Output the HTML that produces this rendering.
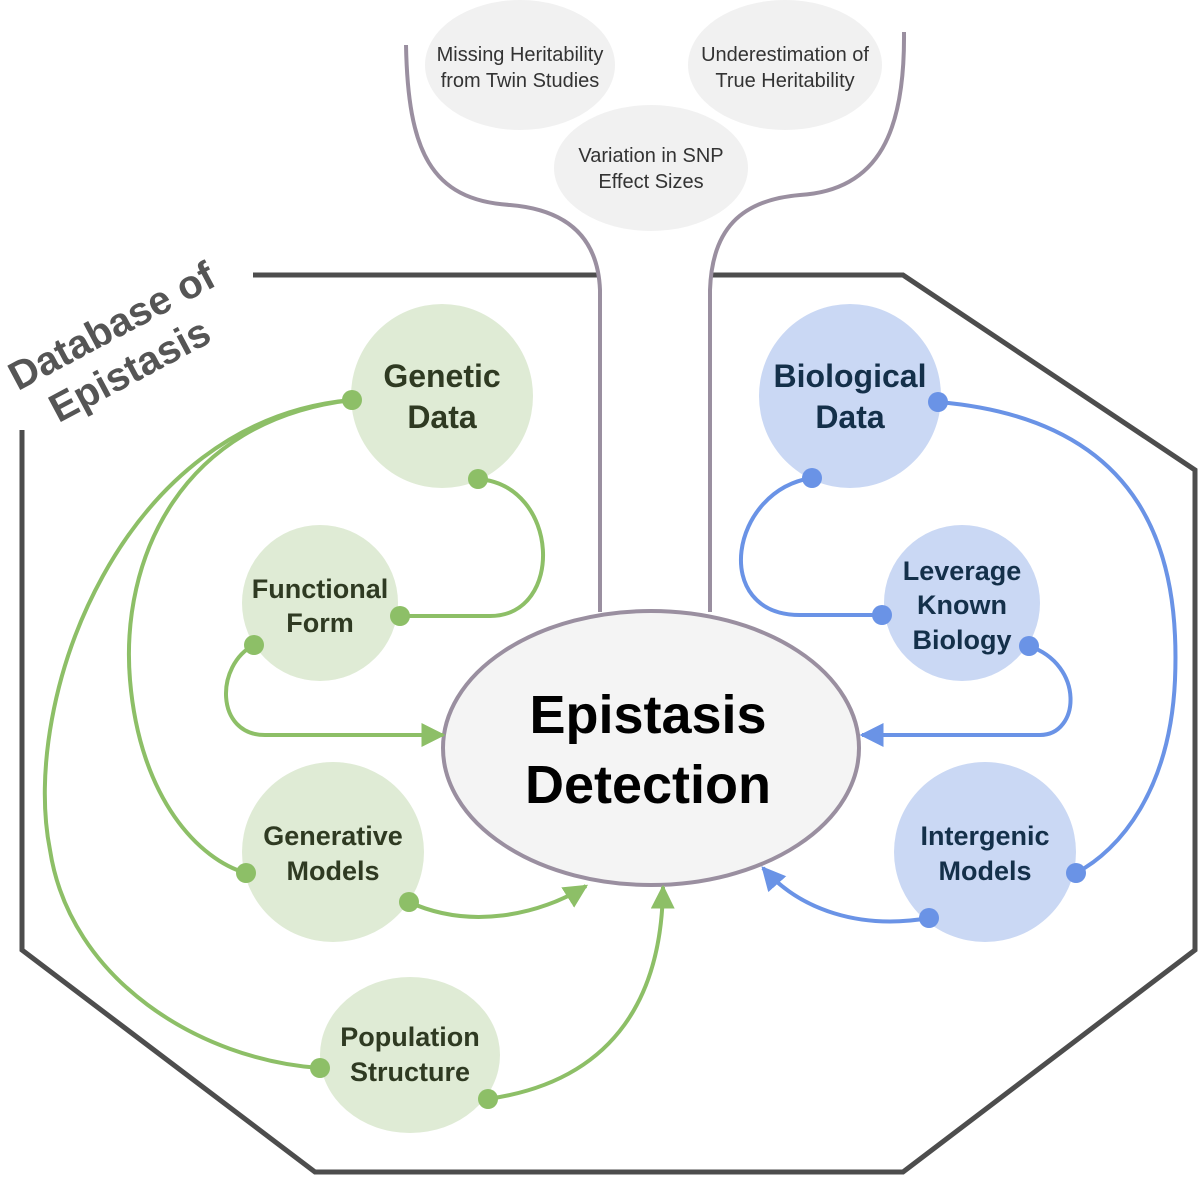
<!DOCTYPE html>
<html><head><meta charset="utf-8"><style>
html,body{margin:0;padding:0;background:#fff;}
svg{display:block;font-family:"Liberation Sans",Arial,sans-serif;}
</style></head><body>
<svg width="1200" height="1178" viewBox="0 0 1200 1178" xmlns="http://www.w3.org/2000/svg">
<defs>
<marker id="ag" viewBox="0 0 10 10" refX="9" refY="5" markerWidth="6" markerHeight="6" markerUnits="strokeWidth" orient="auto"><path d="M0,0 L10,5 L0,10 z" fill="#8dbf67"/></marker>
<marker id="ab" viewBox="0 0 10 10" refX="9" refY="5" markerWidth="6" markerHeight="6" markerUnits="strokeWidth" orient="auto"><path d="M0,0 L10,5 L0,10 z" fill="#6a93e6"/></marker>
</defs>
<!-- octagon -->
<polyline points="253,275 600,275" fill="none" stroke="#4d4d4d" stroke-width="5"/>
<polyline points="710,275 903,275 1195,470 1195,950 903,1172 315,1172 22,950 22,430" fill="none" stroke="#4d4d4d" stroke-width="5"/>
<!-- bubbles -->
<ellipse cx="520" cy="65" rx="95" ry="65" fill="#f1f1f1"/>
<ellipse cx="785" cy="65" rx="97" ry="65" fill="#f1f1f1"/>
<ellipse cx="651" cy="168" rx="97" ry="63" fill="#f1f1f1"/>
<g font-size="20" fill="#333" text-anchor="middle">
<text x="520" y="61">Missing Heritability</text><text x="520" y="87">from Twin Studies</text>
<text x="785" y="61">Underestimation of</text><text x="785" y="87">True Heritability</text>
<text x="651" y="162">Variation in SNP</text><text x="651" y="188">Effect Sizes</text>
</g>
<!-- funnel -->
<path d="M406,45 C408,150 430,200 510,205 C570,210 598,240 600,290 L600,612" fill="none" stroke="#9a8fa0" stroke-width="4"/>
<path d="M904,32 C905,130 880,190 800,195 C740,200 712,230 710,290 L710,612" fill="none" stroke="#9a8fa0" stroke-width="4"/>
<!-- main -->
<ellipse cx="651" cy="748" rx="208" ry="137" fill="#f4f4f4" stroke="#9a8fa0" stroke-width="4"/>
<g font-size="54" font-weight="bold" fill="#000" text-anchor="middle">
<text x="648" y="733">Epistasis</text><text x="648" y="803">Detection</text>
</g>
<!-- nodes -->
<g fill="#dfebd5">
<ellipse cx="442" cy="396" rx="91" ry="92"/>
<ellipse cx="320" cy="603" rx="78" ry="78"/>
<ellipse cx="333" cy="852" rx="91" ry="90"/>
<ellipse cx="410" cy="1055" rx="90" ry="78"/>
</g>
<g fill="#cad8f4">
<ellipse cx="850" cy="396" rx="91" ry="92"/>
<ellipse cx="962" cy="603" rx="78" ry="78"/>
<ellipse cx="985" cy="852" rx="91" ry="90"/>
</g>
<g font-weight="bold" text-anchor="middle" fill="#2f3a22">
<text x="442" y="387" font-size="32">Genetic</text><text x="442" y="428" font-size="32">Data</text>
<text x="320" y="598" font-size="27">Functional</text><text x="320" y="632" font-size="27">Form</text>
<text x="333" y="845" font-size="27">Generative</text><text x="333" y="880" font-size="27">Models</text>
<text x="410" y="1046" font-size="27">Population</text><text x="410" y="1081" font-size="27">Structure</text>
</g>
<g font-weight="bold" text-anchor="middle" fill="#14304a">
<text x="850" y="387" font-size="32">Biological</text><text x="850" y="428" font-size="32">Data</text>
<text x="962" y="580" font-size="27">Leverage</text><text x="962" y="614" font-size="27">Known</text><text x="962" y="649" font-size="27">Biology</text>
<text x="985" y="845" font-size="27">Intergenic</text><text x="985" y="880" font-size="27">Models</text>
</g>
<!-- green connectors -->
<g fill="none" stroke="#8dbf67" stroke-width="4">
<path d="M352,400 C120,420 20,700 50,850 C70,980 200,1060 320,1068"/>
<path d="M352,400 C180,420 120,560 130,680 C140,800 200,860 246,873"/>
<path d="M478,479 C560,485 565,616 490,616 L400,616"/>
<path d="M254,645 C215,665 215,735 265,735 L443,735" marker-end="url(#ag)"/>
<path d="M409,902 C470,930 540,915 586,886" marker-end="url(#ag)"/>
<path d="M488,1099 C620,1080 662,990 663,887" marker-end="url(#ag)"/>
</g>
<g fill="#8dbf67">
<circle cx="352" cy="400" r="10"/><circle cx="478" cy="479" r="10"/><circle cx="400" cy="616" r="10"/>
<circle cx="254" cy="645" r="10"/><circle cx="246" cy="873" r="10"/><circle cx="409" cy="902" r="10"/>
<circle cx="320" cy="1068" r="10"/><circle cx="488" cy="1099" r="10"/>
</g>
<!-- blue connectors -->
<g fill="none" stroke="#6a93e6" stroke-width="4">
<path d="M938,402 C1150,420 1180,560 1175,680 C1170,790 1120,850 1076,873"/>
<path d="M812,478 C730,490 710,615 800,615 L882,615"/>
<path d="M1029,646 C1085,665 1080,735 1040,735 L862,735" marker-end="url(#ab)"/>
<path d="M929,918 C860,930 800,910 763,868" marker-end="url(#ab)"/>
</g>
<g fill="#6a93e6">
<circle cx="938" cy="402" r="10"/><circle cx="812" cy="478" r="10"/><circle cx="882" cy="615" r="10"/>
<circle cx="1029" cy="646" r="10"/><circle cx="1076" cy="873" r="10"/><circle cx="929" cy="918" r="10"/>
</g>
<!-- label -->
<g font-size="40" font-weight="bold" fill="#555" text-anchor="middle">
<text transform="translate(118,338) rotate(-28)">Database of</text>
<text transform="translate(136,382) rotate(-28)">Epistasis</text>
</g>
</svg>
</body></html>
